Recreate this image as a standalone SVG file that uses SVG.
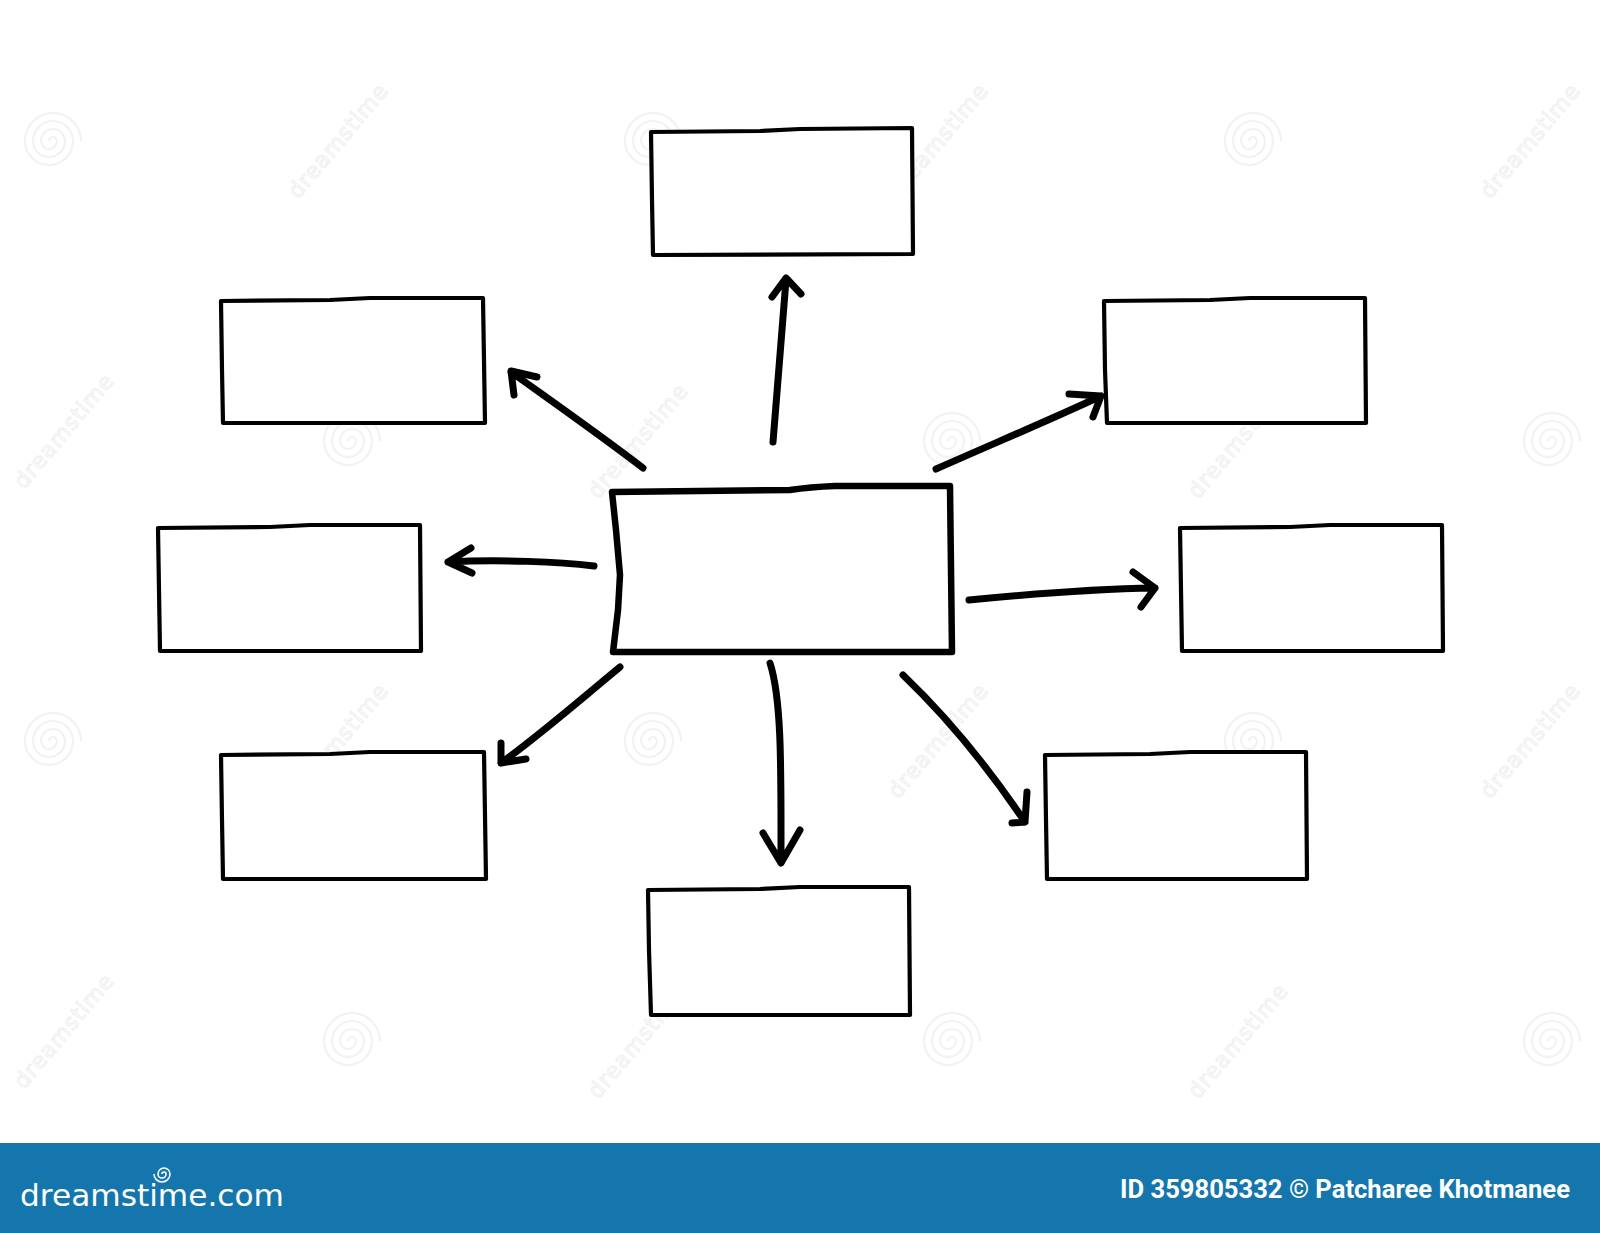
<svg xmlns="http://www.w3.org/2000/svg" width="1600" height="1233" viewBox="0 0 1600 1233">
<defs>
<style>
.box{fill:#fff;stroke:#000;stroke-width:4.2;stroke-linejoin:round;stroke-linecap:round}
.main{fill:#fff;stroke:#000;stroke-width:6.5;stroke-linejoin:round;stroke-linecap:round}
.arr{fill:none;stroke:#000;stroke-width:7;stroke-linecap:round;stroke-linejoin:round}
.wm{fill:none;stroke:#f2f2f2;stroke-width:2.2}
.wmt{font-family:"DejaVu Sans",sans-serif;font-size:22px;fill:none;stroke:#efefef;stroke-width:1;letter-spacing:1px}
.bar1{font-family:"DejaVu Sans",sans-serif;font-size:30px;fill:#fff}
.bar2{font-family:Roboto,"Liberation Sans",sans-serif;font-weight:bold;font-size:25px;fill:#fff}
</style>
<path id="spiral" d="M0,0 A4,4 0 0 1 8,0 A8,8 0 0 1 -8,0 A12,12 0 0 1 16,0 A16,16 0 0 1 -16,0 A20,20 0 0 1 24,0 A24,24 0 0 1 -24,0 A28,28 0 0 1 32,0"/>
</defs>
<rect width="1600" height="1233" fill="#fff"/>
<g id="watermarks">
<use href="#spiral" class="wm" x="49" y="141"/>
<use href="#spiral" class="wm" x="649" y="141"/>
<use href="#spiral" class="wm" x="1249" y="141"/>
<use href="#spiral" class="wm" x="348" y="441"/>
<use href="#spiral" class="wm" x="948" y="441"/>
<use href="#spiral" class="wm" x="1548" y="441"/>
<use href="#spiral" class="wm" x="49" y="741"/>
<use href="#spiral" class="wm" x="649" y="741"/>
<use href="#spiral" class="wm" x="1249" y="741"/>
<use href="#spiral" class="wm" x="348" y="1041"/>
<use href="#spiral" class="wm" x="948" y="1041"/>
<use href="#spiral" class="wm" x="1548" y="1041"/>
<text class="wmt" transform="translate(298,200) rotate(-50)">dreamstime</text>
<text class="wmt" transform="translate(898,200) rotate(-50)">dreamstime</text>
<text class="wmt" transform="translate(1490,200) rotate(-50)">dreamstime</text>
<text class="wmt" transform="translate(24,490) rotate(-50)">dreamstime</text>
<text class="wmt" transform="translate(598,500) rotate(-50)">dreamstime</text>
<text class="wmt" transform="translate(1198,500) rotate(-50)">dreamstime</text>
<text class="wmt" transform="translate(298,800) rotate(-50)">dreamstime</text>
<text class="wmt" transform="translate(898,800) rotate(-50)">dreamstime</text>
<text class="wmt" transform="translate(1490,800) rotate(-50)">dreamstime</text>
<text class="wmt" transform="translate(24,1090) rotate(-50)">dreamstime</text>
<text class="wmt" transform="translate(598,1100) rotate(-50)">dreamstime</text>
<text class="wmt" transform="translate(1198,1100) rotate(-50)">dreamstime</text>
</g>
<g id="connectors">
<path class="arr" d="M773,442 C776,400 781,340 786,280 M772,297 L786,278 L801,294"/>
<path class="arr" d="M643,468 C600,435 550,400 511,372 M537,377 L511,371 L514,395"/>
<path class="arr" d="M594,566 C560,562 500,559 448,562 M471,548 L448,562 L472,573"/>
<path class="arr" d="M936,469 C990,445 1050,420 1101,396 M1069,394 L1101,396 L1093,417"/>
<path class="arr" d="M969,600 C1030,594 1090,589 1155,588 M1133,572 L1155,588 L1141,607"/>
<path class="arr" d="M620,667 C580,700 540,735 501,763 M501,743 L501,763 L526,759"/>
<path class="arr" d="M770,663 C782,700 781,770 781,862 M763,833 L781,863 L800,830"/>
<path class="arr" d="M903,675 C950,720 990,770 1025,822 M1027,792 L1025,822 L1012,823"/>
</g>
<g id="node-center"><path class="main" d="M612,492 L790,490 Q810,487 835,486 L950,486 L952,652 L613,652 L618,610 L620,575 L616,530 Z"/></g>
<g id="node-top"><path class="box" d="M651,132 L760,131 L800,129 L912,128 L913,254 L653,255 L652,200 Z"/></g>
<g id="node-upper-left"><path class="box" d="M221,301 L330,300 L370,298 L483,298 L485,423 L223,423 L222,370 Z"/></g>
<g id="node-upper-right"><path class="box" d="M1104,301 L1210,300 L1250,298 L1365,298 L1366,423 L1107,423 L1105,370 Z"/></g>
<g id="node-mid-left"><path class="box" d="M158,528 L270,527 L310,525 L420,525 L421,651 L160,651 L159,590 Z"/></g>
<g id="node-mid-right"><path class="box" d="M1180,528 L1290,527 L1330,525 L1442,525 L1443,651 L1182,651 L1181,590 Z"/></g>
<g id="node-lower-left"><path class="box" d="M221,755 L330,754 L370,752 L484,752 L486,879 L223,879 L222,820 Z"/></g>
<g id="node-lower-right"><path class="box" d="M1045,755 L1150,754 L1190,752 L1306,752 L1307,879 L1047,879 L1046,820 Z"/></g>
<g id="node-bottom"><path class="box" d="M648,890 L760,889 L800,887 L909,887 L910,1015 L651,1015 L649,950 Z"/></g>
<g id="footer">
<rect x="0" y="1143" width="1600" height="90" fill="#1476ad"/>
<text class="bar1" x="20" y="1206" textLength="264" lengthAdjust="spacingAndGlyphs">dreamstime.com</text>
<path d="M162,1174 A2,2 0 0 1 166,1174 A4,4 0 0 1 158,1174 A6,6 0 0 1 170,1174 A8,8 0 0 1 154,1174" fill="none" stroke="#fff" stroke-width="1.6"/>
<text class="bar2" x="1120" y="1198" textLength="450" lengthAdjust="spacingAndGlyphs">ID 359805332 © Patcharee Khotmanee</text>
</g>
</svg>
